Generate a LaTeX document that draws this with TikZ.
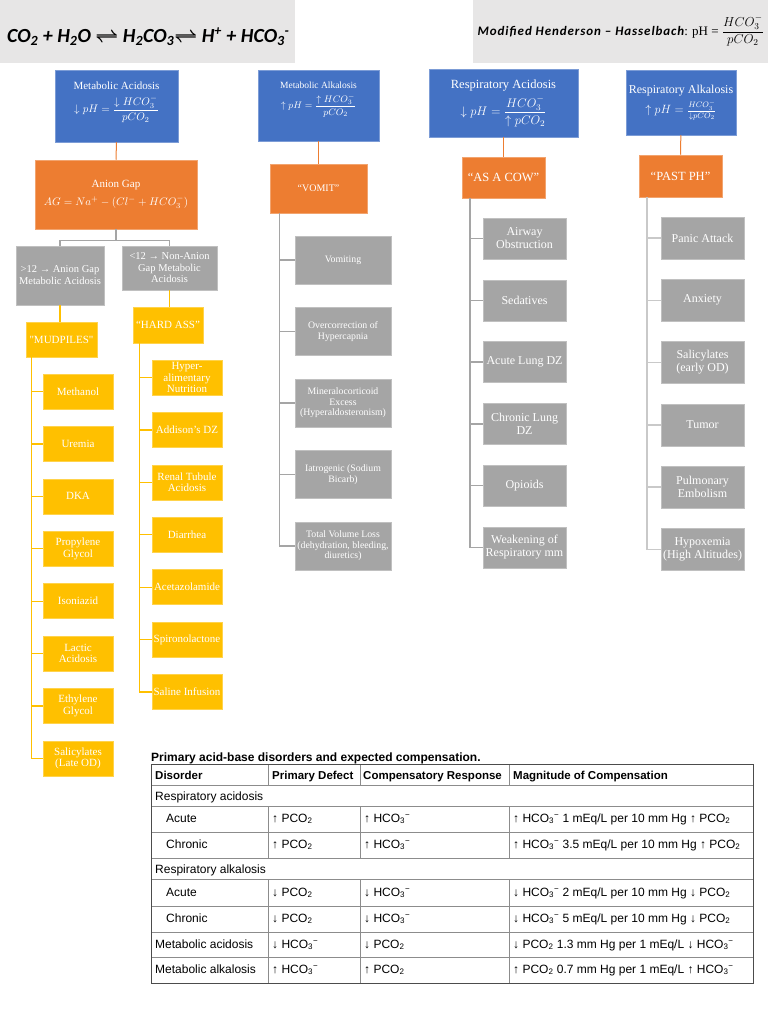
\RequirePackage{fix-cm}
\documentclass[tikz,border=0pt]{standalone}
\usepackage{amsmath}
\usepackage{fontspec}
\setmainfont{Liberation Serif}
\newfontfamily\rawserif[Ligatures=TeXOff]{Liberation Serif}
\newfontfamily\tabfont{Liberation Sans}
\newfontfamily\hdfont{Carlito}
\newfontfamily\hdwide[LetterSpace=7]{Carlito}
\definecolor{acBlue}{HTML}{4472C4}
\definecolor{acOrange}{HTML}{ED7D31}
\definecolor{acGray}{HTML}{A5A5A5}
\definecolor{acYellow}{HTML}{FFC000}
\definecolor{hdGray}{HTML}{E7E6E6}
\definecolor{tabLine}{HTML}{8C8C8C}
\newcommand\hcoiii{HCO\textsubscript{3}\textsuperscript{−}}
\newcommand\pcoii{PCO\textsubscript{2}}
\tikzset{
  card/.style={text=white, align=center, inner sep=1pt},
  bluebox/.style={card, fill=acBlue, draw=acBlue!70!white, line width=0.5pt},
  orbox/.style={card, fill=acOrange, draw=acOrange!70!white, line width=0.5pt},
  grbox/.style={card, fill=acGray, draw=acGray!70!white, line width=0.5pt},
  yebox/.style={card, fill=acYellow, draw=acYellow!70!white, line width=0.5pt},
  yitem/.style={yebox, minimum width=70pt, minimum height=35pt, font=\fontsize{11}{11.5}\selectfont},
  vitem/.style={grbox, minimum width=96pt, minimum height=48pt, font=\fontsize{9.8}{10.5}\selectfont},
  ritem/.style={grbox, minimum width=83pt, minimum height=41pt, font=\fontsize{12}{13}\selectfont},
  olink/.style={draw=acOrange, line width=1pt},
  glink/.style={draw=acGray, line width=1.5pt},
  ylink/.style={draw=acYellow, line width=1.2pt},
  tcell/.style={anchor=base west, inner sep=0pt, font=\tabfont\fontsize{12}{13}\selectfont},
  thead/.style={tcell, font=\tabfont\bfseries\fontsize{11.5}{13}\selectfont},
  tline/.style={draw=tabLine, line width=0.8pt}
}
\begin{document}
\begin{tikzpicture}[x=1pt,y=-1pt]
  \fill[white] (0,0) rectangle (768,1024);
  \useasboundingbox (0,0) rectangle (768,1024);
  % header bands
  \fill[hdGray] (0,0) rectangle (295,63);
  \fill[hdGray] (473,0) rectangle (768,63);
  \node[anchor=west,inner sep=0pt] (eqn) at (7,37) {\hdfont\bfseries\itshape\fontsize{20}{20}\selectfont
    CO\textsubscript{2} + H\textsubscript{2}O $\boldsymbol{\rightleftharpoons}$ H\textsubscript{2}CO\textsubscript{3}$\boldsymbol{\rightleftharpoons}$ H\textsuperscript{+} + HCO\textsubscript{3}\textsuperscript{-}};
  \node[anchor=east,inner sep=0pt] (hh) at (764,31) {\fontsize{13}{13}\selectfont
    {\hdwide\bfseries\itshape Modified Henderson – Hasselbach}: pH = $\dfrac{HCO_3^-}{pCO_2}$};

  % disorders
  \node[bluebox,minimum width=123pt,minimum height=72pt,font=\fontsize{11}{14}\selectfont] (macid) at (116.5,106)
    {Metabolic Acidosis\\[5pt] $\downarrow pH=\dfrac{\downarrow HCO_3^-}{pCO_2}$\\[3pt]};
  \node[bluebox,minimum width=121pt,minimum height=71pt,font=\fontsize{9.5}{12}\selectfont] (malk) at (318.5,105.5)
    {Metabolic Alkalosis\\[4pt] $\uparrow pH=\dfrac{\uparrow HCO_3^-}{pCO_2}$\\[8pt]};
  \node[bluebox,minimum width=149pt,minimum height=68pt,font=\fontsize{12.5}{15}\selectfont] (racid) at (503.5,103)
    {Respiratory Acidosis\\[5pt] $\downarrow pH=\dfrac{HCO_3^-}{\uparrow pCO_2}$};
  \node[bluebox,minimum width=110pt,minimum height=65pt,font=\fontsize{12}{15}\selectfont] (ralk) at (681,102.5)
    {Respiratory Alkalosis\\[3pt] $\uparrow pH=\tfrac{HCO_3^-}{\downarrow pCO_2}$};

  % mnemonics
  \node[orbox,minimum width=162pt,minimum height=69pt,font=\fontsize{11}{18}\selectfont] (ag) at (116,194.5)
    {Anion Gap\\ $AG=Na^+-(Cl^-+HCO_3^-)$};
  \node[orbox,minimum width=97pt,minimum height=49pt,font=\fontsize{10}{12}\selectfont] (vomit) at (318.5,188.5) {“VOMIT”};
  \node[orbox,minimum width=83pt,minimum height=41pt,font=\fontsize{12.5}{14}\selectfont] (cow) at (503.5,177.5) {“AS A COW”};
  \node[orbox,minimum width=83pt,minimum height=42pt,font=\fontsize{12.5}{14}\selectfont] (past) at (680.5,176) {“PAST PH”};
  \draw[olink] (macid) -- (ag);
  \draw[olink] (malk) -- (vomit);
  \draw[olink] (racid) -- (cow);
  \draw[olink] (ralk) -- (past);

  % anion gap split
  \node[grbox,minimum width=88pt,minimum height=59pt,font=\fontsize{10.5}{12}\selectfont] (agma) at (60,275.5)
    {>12 → Anion Gap\\Metabolic Acidosis};
  \node[grbox,minimum width=95pt,minimum height=44pt,font=\fontsize{10.5}{11.5}\selectfont] (nagma) at (169.5,268)
    {<12 → Non-Anion\\Gap Metabolic\\Acidosis};
  \draw[glink] (ag.south) -- ++(0,11) -| (agma.north);
  \draw[glink] (ag.south) -- ++(0,11) -| (nagma.north);
  \node[yebox,minimum width=71pt,minimum height=35pt,font=\fontsize{11}{12}\selectfont] (mud) at (61.5,339.5)
    {{\rawserif"}MUDPILES{\rawserif"}};
  \node[yebox,minimum width=70pt,minimum height=36pt,font=\fontsize{11}{12}\selectfont] (hard) at (168,325) {“HARD ASS”};
  \draw[ylink] (agma.south) -- (agma.south |- mud.north);
  \draw[ylink] (nagma.south) -- (nagma.south |- hard.north);

  % causes
  \foreach \i/\txt in {0/Methanol,1/Uremia,2/DKA,3/{Propylene\\Glycol},4/Isoniazid,
      5/{Lactic\\Acidosis},6/{Ethylene\\Glycol},7/{Salicylates\\(Late OD)}}
    \node[yitem] (mud\i) at (78,{391.5+52.4*\i}) {\txt};
  \foreach \i in {0,...,7}
    \draw[ylink] ([xshift=6pt]mud.south west) |- (mud\i.west);

  \foreach \i/\txt in {0/{Hyper-\\alimentary\\Nutrition},1/Addison’s DZ,2/{Renal Tubule\\Acidosis},
      3/Diarrhea,4/Acetazolamide,5/Spironolactone,6/Saline Infusion}
    \node[yitem] (hard\i) at (187,{377.5+52.4*\i}) {\txt};
  \foreach \i in {0,...,6}
    \draw[ylink] ([xshift=7pt]hard.south west) |- (hard\i.west);

  \foreach \i/\txt in {0/Vomiting,1/{Overcorrection of\\Hypercapnia},2/{Mineralocorticoid\\Excess\\(Hyperaldosteronism)},
      3/{Iatrogenic (Sodium\\Bicarb)},4/{Total Volume Loss\\(dehydration, bleeding,\\diuretics)}}
    \node[vitem] (vom\i) at (343,{260+71.5*\i}) {\txt};
  \foreach \i in {0,...,4}
    \draw[draw=acGray,line width=1.2pt] ([xshift=10pt]vomit.south west) |- (vom\i.west);

  \foreach \i/\txt in {0/{Airway\\Obstruction},1/Sedatives,2/Acute Lung DZ,3/{Chronic Lung\\DZ},
      4/Opioids,5/{Weakening of\\Respiratory mm}}
    \node[ritem] (cow\i) at (524.5,{238.5+61.8*\i}) {\txt};
  \foreach \i in {0,...,5}
    \draw[glink] ([xshift=8pt]cow.south west) |- (cow\i.west);

  \foreach \i/\txt in {0/Panic Attack,1/Anxiety,2/{Salicylates\\(early OD)},3/Tumor,
      4/{Pulmonary\\Embolism},5/{Hypoxemia\\(High Altitudes)}}
    \node[ritem,minimum height=42pt] (past\i) at (702.5,{238+62.3*\i}) {\txt};
  \foreach \i in {0,...,5}
    \draw[draw=acGray!60!white,line width=1.5pt] ([xshift=8pt]past.south west) |- (past\i.west);

  % compensation table
  \node[tcell,font=\tabfont\bfseries\fontsize{12}{13}\selectfont] (ttl) at (151,761)
    {Primary acid-base disorders and expected compensation.};
  \foreach \y in {785,806,832,858,879,906,932,957}
    \draw[tline] (151,\y) -- (753,\y);
  \foreach \x in {268,360,509} {
    \draw[tline] (\x,764) -- (\x,785);
    \draw[tline] (\x,806) -- (\x,858);
    \draw[tline] (\x,879) -- (\x,983);
  }
  \draw[draw=black!70,line width=1pt] (151,764) rectangle (753,983);
  \node[thead] (h1) at (155,779) {Disorder};
  \node[thead] (h2) at (272,779) {Primary Defect};
  \node[thead] (h3) at (363,779) {Compensatory Response};
  \node[thead] (h4) at (513,779) {Magnitude of Compensation};
  \node[tcell] (ra) at (155,800) {Respiratory acidosis};
  \node[tcell] (ra1) at (166,822) {Acute};
  \node[tcell] (ra1b) at (272,822) {↑ \pcoii};
  \node[tcell] (ra1c) at (364,822) {↑ \hcoiii};
  \node[tcell] (ra1d) at (513,822) {↑ \hcoiii\ 1 mEq/L per 10 mm Hg ↑ \pcoii};
  \node[tcell] (ra2) at (166,848) {Chronic};
  \node[tcell] (ra2b) at (272,848) {↑ \pcoii};
  \node[tcell] (ra2c) at (364,848) {↑ \hcoiii};
  \node[tcell] (ra2d) at (513,848) {↑ \hcoiii\ 3.5 mEq/L per 10 mm Hg ↑ \pcoii};
  \node[tcell] (rl) at (155,873) {Respiratory alkalosis};
  \node[tcell] (rl1) at (166,896) {Acute};
  \node[tcell] (rl1b) at (272,896) {↓ \pcoii};
  \node[tcell] (rl1c) at (364,896) {↓ \hcoiii};
  \node[tcell] (rl1d) at (513,896) {↓ \hcoiii\ 2 mEq/L per 10 mm Hg ↓ \pcoii};
  \node[tcell] (rl2) at (166,922) {Chronic};
  \node[tcell] (rl2b) at (272,922) {↓ \pcoii};
  \node[tcell] (rl2c) at (364,922) {↓ \hcoiii};
  \node[tcell] (rl2d) at (513,922) {↓ \hcoiii\ 5 mEq/L per 10 mm Hg ↓ \pcoii};
  \node[tcell] (ma) at (155,948) {Metabolic acidosis};
  \node[tcell] (mab) at (272,948) {↓ \hcoiii};
  \node[tcell] (mac) at (364,948) {↓ \pcoii};
  \node[tcell] (mad) at (513,948) {↓ \pcoii\ 1.3 mm Hg per 1 mEq/L ↓ \hcoiii};
  \node[tcell] (ml) at (155,973) {Metabolic alkalosis};
  \node[tcell] (mlb) at (272,973) {↑ \hcoiii};
  \node[tcell] (mlc) at (364,973) {↑ \pcoii};
  \node[tcell] (mld) at (513,973) {↑ \pcoii\ 0.7 mm Hg per 1 mEq/L ↑ \hcoiii};
\end{tikzpicture}
\end{document}
